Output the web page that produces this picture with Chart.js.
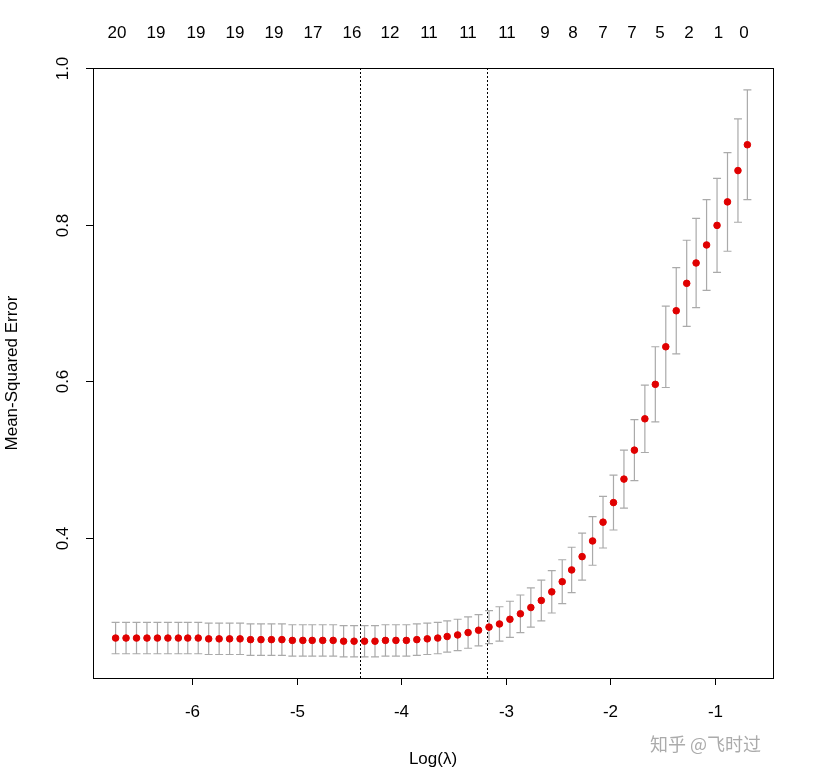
<!DOCTYPE html>
<html><head><meta charset="utf-8">
<script src="https://cdn.jsdelivr.net/npm/chart.js@4"></script>
<style>html,body{margin:0;padding:0;background:#fff}#w{width:825px;height:777px}</style>
</head><body><div id="w"><canvas id="c"></canvas></div>
<script>
const logLambda=[-6.73,-6.63,-6.53,-6.43,-6.33,-6.23,-6.13,-6.04,-5.94,-5.84,-5.74,-5.64,-5.54,-5.44,-5.34,-5.24,-5.14,-5.04,-4.94,-4.85,-4.75,-4.65,-4.55,-4.45,-4.35,-4.25,-4.15,-4.05,-3.95,-3.85,-3.75,-3.65,-3.56,-3.46,-3.36,-3.26,-3.16,-3.06,-2.96,-2.86,-2.76,-2.66,-2.56,-2.46,-2.37,-2.27,-2.17,-2.07,-1.97,-1.87,-1.77,-1.67,-1.57,-1.47,-1.37,-1.27,-1.18,-1.08,-0.98,-0.88,-0.78,-0.69];
const mse=[0.272,0.272,0.272,0.272,0.272,0.272,0.272,0.272,0.272,0.271,0.271,0.271,0.271,0.270,0.270,0.270,0.270,0.269,0.269,0.269,0.269,0.269,0.268,0.268,0.268,0.268,0.269,0.269,0.269,0.270,0.271,0.272,0.274,0.276,0.279,0.282,0.286,0.290,0.296,0.303,0.311,0.320,0.331,0.344,0.359,0.376,0.396,0.420,0.445,0.475,0.512,0.552,0.596,0.644,0.690,0.725,0.751,0.774,0.799,0.829,0.869,0.902];
const se=[0.02,0.02,0.02,0.02,0.02,0.02,0.02,0.02,0.02,0.02,0.02,0.02,0.02,0.02,0.02,0.02,0.02,0.02,0.02,0.02,0.02,0.02,0.02,0.02,0.02,0.02,0.02,0.02,0.02,0.02,0.02,0.02,0.02,0.02,0.02,0.02,0.021,0.022,0.023,0.024,0.025,0.026,0.027,0.028,0.029,0.030,0.031,0.033,0.035,0.037,0.039,0.043,0.048,0.052,0.055,0.055,0.057,0.058,0.060,0.063,0.066,0.070];
const topTickPos=[-6.717,-6.344,-5.962,-5.589,-5.216,-4.843,-4.470,-4.107,-3.734,-3.361,-2.988,-2.625,-2.357,-2.071,-1.793,-1.526,-1.249,-0.966,-0.723];
const topTickLabels=["20","19","19","19","19","17","16","12","11","11","11","9","8","7","7","5","2","1","0"];
const xTicks=[-6,-5,-4,-3,-2,-1];
const yTicks=[0.4,0.6,0.8,1.0];
const yTickLabels=["0.4","0.6","0.8","1.0"];
const vLines=[-4.394,-3.18];
const FONT='"Liberation Sans", Arial, sans-serif';

const draw={id:'draw',
 beforeDatasetsDraw(ch){const c=ch.ctx,x=ch.scales.x,y=ch.scales.y,a=ch.chartArea;
  c.save();c.strokeStyle='#aaaaaa';c.lineWidth=1.2;
  logLambda.forEach((v,i)=>{const px=x.getPixelForValue(v),t=y.getPixelForValue(mse[i]+se[i]),b=y.getPixelForValue(mse[i]-se[i]);
   c.beginPath();c.moveTo(px,t);c.lineTo(px,b);c.moveTo(px-4,t);c.lineTo(px+4,t);c.moveTo(px-4,b);c.lineTo(px+4,b);c.stroke();});
  c.strokeStyle='#000';c.lineWidth=1;c.setLineDash([2,2]);
  vLines.forEach(v=>{const px=Math.round(x.getPixelForValue(v))+0.5;c.beginPath();c.moveTo(px,a.top);c.lineTo(px,a.bottom);c.stroke();});
  c.restore();},
 afterDraw(ch){const c=ch.ctx,x=ch.scales.x,y=ch.scales.y,a=ch.chartArea;
  c.save();c.strokeStyle='#000';c.lineWidth=1;c.strokeRect(a.left+0.5,a.top+0.5,a.right-a.left,a.bottom-a.top);
  c.fillStyle='#000';c.font='17px '+FONT;c.textAlign='center';c.textBaseline='middle';
  xTicks.forEach(v=>{const px=Math.round(x.getPixelForValue(v))+0.5;c.beginPath();c.moveTo(px,a.bottom);c.lineTo(px,a.bottom+7);c.stroke();c.fillText(String(v),px,a.bottom+34);});
  topTickPos.forEach((v,i)=>{c.fillText(topTickLabels[i],x.getPixelForValue(v),33);});
  yTicks.forEach((v,i)=>{const py=Math.round(y.getPixelForValue(v))+0.5;c.beginPath();c.moveTo(a.left,py);c.lineTo(a.left-7,py);c.stroke();
   c.save();c.translate(a.left-30,py);c.rotate(-Math.PI/2);c.fillText(yTickLabels[i],0,0);c.restore();});
  c.fillText('Log(λ)',(a.left+a.right)/2,759);
  c.save();c.translate(12,(a.top+a.bottom)/2);c.rotate(-Math.PI/2);c.fillText('Mean-Squared Error',0,0);c.restore();
  c.fillStyle='rgba(150,150,150,0.8)';c.font='18px "Noto Sans CJK SC"';c.textAlign='left';c.fillText('知乎 @飞时过',650,744);
  c.restore();}
};
new Chart(document.getElementById('c'),{type:'scatter',
 data:{datasets:[{data:logLambda.map((v,i)=>({x:v,y:mse[i]})),backgroundColor:'#e00000',borderColor:'#e00000',pointRadius:3.3,pointHoverRadius:3.3}]},
 options:{responsive:true,maintainAspectRatio:false,animation:false,devicePixelRatio:1,
  layout:{padding:{left:93,right:52,top:68,bottom:99}},
  plugins:{legend:{display:false},tooltip:{enabled:false}},
  scales:{x:{type:'linear',min:-6.946,max:-0.445,display:false},y:{type:'linear',min:0.221,max:1.0,display:false}}},
 plugins:[draw]});
</script></body></html>
